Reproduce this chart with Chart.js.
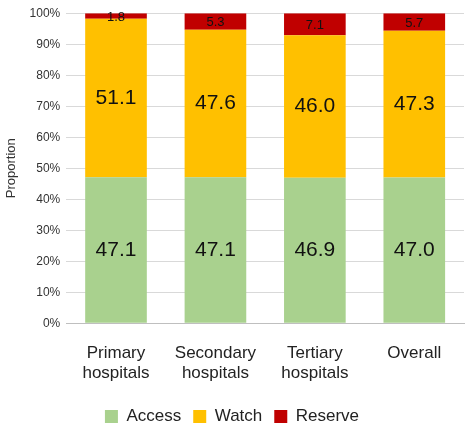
<!DOCTYPE html>
<html>
<head>
<meta charset="utf-8">
<script src="https://cdn.jsdelivr.net/npm/chart.js@4/dist/chart.umd.min.js"></script>
<style>
  body { margin: 0; background: #fff; }
  #wrap { width: 474px; height: 435px; }
</style>
</head>
<body>
<div id="wrap"><canvas id="chart"></canvas></div>
<script>
// Data
const categories = [["Primary", "hospitals"], ["Secondary", "hospitals"], ["Tertiary", "hospitals"], ["Overall", ""]];
const accessValues = [47.1, 47.1, 46.9, 47.0];
const watchValues = [51.1, 47.6, 46.0, 47.3];
const reserveValues = [1.8, 5.3, 7.1, 5.7];

// draw the value labels in the middle of each segment
const valueLabels = {
    id: "valueLabels",
    afterDatasetsDraw(chart) {
        const ctx = chart.ctx;
        ctx.save();
        ctx.fillStyle = "#111";
        ctx.textAlign = "center";
        ctx.textBaseline = "middle";
        chart.data.datasets.forEach((ds, i) => {
            const meta = chart.getDatasetMeta(i);
            ctx.font = (i === 2 ? "13px" : "21px") + " 'Liberation Sans', Arial, sans-serif";
            meta.data.forEach((bar, j) => {
                const y = (bar.y + bar.base) / 2 + (i === 2 ? 1 : 0);
                ctx.fillText(ds.data[j].toFixed(1), bar.x, y);
            });
        });
        ctx.restore();
    }
};

const ctx = document.getElementById("chart").getContext("2d");
new Chart(ctx, {
    type: "bar",
    data: {
        labels: categories,
        datasets: [
            { label: "Access", data: accessValues, backgroundColor: "#a9d18e" },
            { label: "Watch", data: watchValues, backgroundColor: "#ffc000" },
            { label: "Reserve", data: reserveValues, backgroundColor: "#c00000" }
        ]
    },
    options: {
        responsive: true,
        maintainAspectRatio: false,
        animation: false,
        layout: { padding: { top: 5, right: 10, left: 0, bottom: 0 } },
        datasets: { bar: { categoryPercentage: 0.62, barPercentage: 1.0 } },
        scales: {
            x: {
                stacked: true,
                grid: { display: false },
                border: { color: "#bfbfbf" },
                ticks: { padding: 12, color: "#222", font: { size: 17, family: "'Liberation Sans', Arial, sans-serif" } }
            },
            y: {
                stacked: true,
                min: 0,
                max: 100,
                border: { display: false },
                grid: { color: "#d9d9d9", drawTicks: false },
                title: { display: true, text: "Proportion", color: "#333", font: { size: 13, family: "'Liberation Sans', Arial, sans-serif" } },
                ticks: {
                    stepSize: 10,
                    padding: 6,
                    color: "#333",
                    font: { size: 12, family: "'Liberation Sans', Arial, sans-serif" },
                    callback: v => v + "%"
                }
            }
        },
        plugins: {
            legend: {
                position: "bottom",
                labels: {
                    boxWidth: 13,
                    boxHeight: 13,
                    padding: 12,
                    color: "#222",
                    font: { size: 17, family: "'Liberation Sans', Arial, sans-serif" }
                }
            },
            tooltip: { enabled: false }
        }
    },
    plugins: [valueLabels]
});
</script>
</body>
</html>
